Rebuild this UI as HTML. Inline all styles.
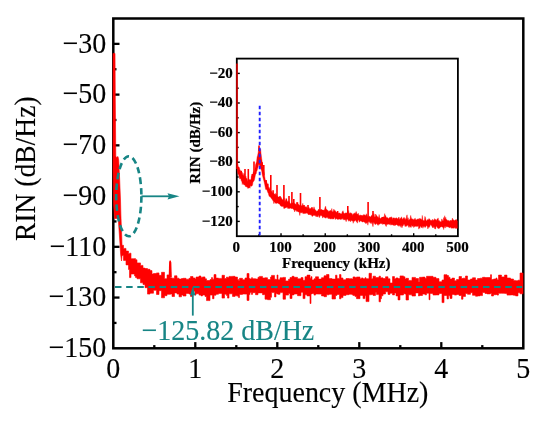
<!DOCTYPE html>
<html><head><meta charset="utf-8"><style>
html,body{margin:0;padding:0;background:#fff;width:550px;height:424px;overflow:hidden}
svg{display:block}
text{font-family:"Liberation Serif","Times New Roman",serif;fill:#000}
.big{stroke:#000;stroke-width:0.12px}
.sm{stroke:#000;stroke-width:0.2px}
</style></head><body>
<svg width="550" height="424" viewBox="0 0 550 424">
<rect x="113.3" y="18.5" width="410" height="329.8" fill="none" stroke="#000" stroke-width="2.5"/>
<line x1="113.3" y1="43.87" x2="119.50" y2="43.87" stroke="#000" stroke-width="2.3"/>
<line x1="113.3" y1="69.24" x2="116.50" y2="69.24" stroke="#000" stroke-width="2.3"/>
<line x1="113.3" y1="94.61" x2="119.50" y2="94.61" stroke="#000" stroke-width="2.3"/>
<line x1="113.3" y1="119.98" x2="116.50" y2="119.98" stroke="#000" stroke-width="2.3"/>
<line x1="113.3" y1="145.35" x2="119.50" y2="145.35" stroke="#000" stroke-width="2.3"/>
<line x1="113.3" y1="170.72" x2="116.50" y2="170.72" stroke="#000" stroke-width="2.3"/>
<line x1="113.3" y1="196.08" x2="119.50" y2="196.08" stroke="#000" stroke-width="2.3"/>
<line x1="113.3" y1="221.45" x2="116.50" y2="221.45" stroke="#000" stroke-width="2.3"/>
<line x1="113.3" y1="246.82" x2="119.50" y2="246.82" stroke="#000" stroke-width="2.3"/>
<line x1="113.3" y1="272.19" x2="116.50" y2="272.19" stroke="#000" stroke-width="2.3"/>
<line x1="113.3" y1="297.56" x2="119.50" y2="297.56" stroke="#000" stroke-width="2.3"/>
<line x1="113.3" y1="322.93" x2="116.50" y2="322.93" stroke="#000" stroke-width="2.3"/>
<line x1="154.30" y1="348.3" x2="154.30" y2="345.10" stroke="#000" stroke-width="2.3"/>
<line x1="195.30" y1="348.3" x2="195.30" y2="342.10" stroke="#000" stroke-width="2.3"/>
<line x1="236.30" y1="348.3" x2="236.30" y2="345.10" stroke="#000" stroke-width="2.3"/>
<line x1="277.30" y1="348.3" x2="277.30" y2="342.10" stroke="#000" stroke-width="2.3"/>
<line x1="318.30" y1="348.3" x2="318.30" y2="345.10" stroke="#000" stroke-width="2.3"/>
<line x1="359.30" y1="348.3" x2="359.30" y2="342.10" stroke="#000" stroke-width="2.3"/>
<line x1="400.30" y1="348.3" x2="400.30" y2="345.10" stroke="#000" stroke-width="2.3"/>
<line x1="441.30" y1="348.3" x2="441.30" y2="342.10" stroke="#000" stroke-width="2.3"/>
<line x1="482.30" y1="348.3" x2="482.30" y2="345.10" stroke="#000" stroke-width="2.3"/>
<polygon points="113.0,53.4 115.0,53.4 115.3,100.0 115.8,156.0 116.4,157.5 117.2,157.0 118.0,156.5 118.7,160.0 119.6,178.0 120.5,200.0 120.9,215.0 121.4,228.0 121.8,238.0 122.0,245.0 122.0,245.3 123.5,245.3 123.5,248.4 126.0,248.4 126.0,251.1 128.5,251.1 128.5,254.1 129.5,254.1 129.5,253.2 131.0,253.2 131.0,258.7 134.5,258.7 134.5,258.6 135.5,258.6 135.5,259.8 137.0,259.8 137.0,262.9 140.5,262.9 140.5,265.4 143.0,265.4 143.0,268.1 145.0,268.1 145.0,268.5 147.5,268.5 147.5,269.3 150.0,269.3 150.0,270.6 152.0,270.6 152.0,274.1 153.5,274.1 153.5,273.5 156.5,273.5 156.5,272.9 159.0,272.9 159.0,275.3 161.5,275.3 161.5,272.3 164.5,272.3 164.5,278.7 167.0,278.7 167.0,274.9 170.5,274.9 170.5,277.8 172.0,277.8 172.0,278.2 174.5,278.2 174.5,275.8 177.0,275.8 177.0,278.2 179.0,278.2 179.0,279.1 181.5,279.1 181.5,278.5 183.0,278.5 183.0,278.3 186.0,278.3 186.0,279.2 189.0,279.2 189.0,278.3 190.5,278.3 190.5,276.5 193.0,276.5 193.0,278.0 195.0,278.0 195.0,279.0 196.0,279.0 196.0,277.0 199.0,277.0 199.0,276.0 201.0,276.0 201.0,277.6 202.5,277.6 202.5,276.9 205.0,276.9 205.0,278.8 206.5,278.8 206.5,280.5 210.0,280.5 210.0,279.6 211.5,279.6 211.5,277.6 212.5,277.6 212.5,279.2 214.0,279.2 214.0,274.6 216.0,274.6 216.0,278.1 218.5,278.1 218.5,278.4 222.0,278.4 222.0,275.3 224.5,275.3 224.5,278.5 226.5,278.5 226.5,277.0 227.5,277.0 227.5,277.4 229.0,277.4 229.0,276.4 232.5,276.4 232.5,276.3 235.0,276.3 235.0,277.1 237.5,277.1 237.5,279.4 238.5,279.4 238.5,280.5 239.5,280.5 239.5,278.3 242.5,278.3 242.5,279.7 245.0,279.7 245.0,278.0 247.0,278.0 247.0,273.5 249.0,273.5 249.0,278.5 250.0,278.5 250.0,278.9 251.5,278.9 251.5,277.7 252.5,277.7 252.5,278.7 255.5,278.7 255.5,279.0 258.0,279.0 258.0,277.2 259.5,277.2 259.5,276.4 262.5,276.4 262.5,278.0 264.0,278.0 264.0,278.0 265.0,278.0 265.0,277.8 267.5,277.8 267.5,279.6 270.5,279.6 270.5,277.0 271.5,277.0 271.5,275.4 274.5,275.4 274.5,279.2 276.0,279.2 276.0,279.5 277.0,279.5 277.0,275.0 278.0,275.0 278.0,279.7 280.0,279.7 280.0,277.8 283.0,277.8 283.0,277.4 285.5,277.4 285.5,280.9 288.5,280.9 288.5,279.3 290.0,279.3 290.0,277.5 292.0,277.5 292.0,276.3 294.0,276.3 294.0,277.3 297.5,277.3 297.5,278.8 301.0,278.8 301.0,277.6 303.0,277.6 303.0,280.3 305.0,280.3 305.0,276.7 307.0,276.7 307.0,275.1 310.0,275.1 310.0,278.3 311.0,278.3 311.0,276.7 312.0,276.7 312.0,279.9 314.0,279.9 314.0,278.8 315.5,278.8 315.5,276.8 318.5,276.8 318.5,279.1 321.5,279.1 321.5,277.7 324.0,277.7 324.0,275.8 326.5,275.8 326.5,274.5 329.0,274.5 329.0,278.6 332.0,278.6 332.0,279.1 335.5,279.1 335.5,275.2 337.0,275.2 337.0,278.4 339.5,278.4 339.5,274.6 341.0,274.6 341.0,278.0 343.0,278.0 343.0,279.8 346.0,279.8 346.0,278.5 349.0,278.5 349.0,278.7 352.0,278.7 352.0,279.0 353.0,279.0 353.0,276.9 355.0,276.9 355.0,277.4 356.5,277.4 356.5,277.0 360.0,277.0 360.0,278.7 361.5,278.7 361.5,277.9 363.0,277.9 363.0,278.7 365.0,278.7 365.0,277.7 366.0,277.7 366.0,278.7 369.0,278.7 369.0,273.3 371.5,273.3 371.5,278.7 373.0,278.7 373.0,276.2 375.5,276.2 375.5,277.6 376.5,277.6 376.5,277.6 379.0,277.6 379.0,276.2 380.5,276.2 380.5,278.0 381.5,278.0 381.5,277.8 383.0,277.8 383.0,278.5 385.5,278.5 385.5,276.8 388.0,276.8 388.0,278.8 390.0,278.8 390.0,283.0 392.5,283.0 392.5,276.6 394.5,276.6 394.5,278.7 396.0,278.7 396.0,277.9 398.0,277.9 398.0,278.6 400.0,278.6 400.0,275.9 403.5,275.9 403.5,276.8 405.0,276.8 405.0,278.9 406.0,278.9 406.0,278.3 408.5,278.3 408.5,280.4 412.0,280.4 412.0,277.4 415.5,277.4 415.5,278.5 418.5,278.5 418.5,282.1 419.5,282.1 419.5,277.3 422.5,277.3 422.5,277.1 425.0,277.1 425.0,278.3 426.5,278.3 426.5,276.3 429.0,276.3 429.0,276.3 430.0,276.3 430.0,276.3 433.0,276.3 433.0,277.3 436.0,277.3 436.0,278.6 439.0,278.6 439.0,281.7 442.0,281.7 442.0,280.0 444.0,280.0 444.0,274.7 447.0,274.7 447.0,275.5 448.5,275.5 448.5,277.2 450.0,277.2 450.0,279.1 452.0,279.1 452.0,278.1 454.5,278.1 454.5,280.8 456.5,280.8 456.5,279.5 459.0,279.5 459.0,276.5 461.5,276.5 461.5,278.5 463.0,278.5 463.0,278.2 465.5,278.2 465.5,276.0 467.5,276.0 467.5,280.0 470.5,280.0 470.5,279.0 472.5,279.0 472.5,277.8 475.5,277.8 475.5,280.0 477.5,280.0 477.5,278.5 480.0,278.5 480.0,278.2 482.5,278.2 482.5,277.3 485.0,277.3 485.0,277.6 487.0,277.6 487.0,277.5 490.5,277.5 490.5,274.7 491.5,274.7 491.5,279.6 493.5,279.6 493.5,279.0 496.0,279.0 496.0,278.0 497.0,278.0 497.0,279.7 498.5,279.7 498.5,275.1 501.5,275.1 501.5,276.9 504.5,276.9 504.5,275.1 507.0,275.1 507.0,278.0 510.5,278.0 510.5,279.0 513.5,279.0 513.5,280.4 515.5,280.4 515.5,280.7 518.0,280.7 518.0,280.2 520.0,280.2 520.0,273.0 523.0,273.0 523.0,293.8 520.0,293.8 520.0,292.7 518.0,292.7 518.0,295.9 515.5,295.9 515.5,295.3 513.5,295.3 513.5,294.9 510.5,294.9 510.5,295.1 507.0,295.1 507.0,293.4 504.5,293.4 504.5,293.3 501.5,293.3 501.5,293.3 498.5,293.3 498.5,295.1 497.0,295.1 497.0,294.5 496.0,294.5 496.0,294.7 493.5,294.7 493.5,296.0 491.5,296.0 491.5,293.3 490.5,293.3 490.5,293.9 487.0,293.9 487.0,293.5 485.0,293.5 485.0,292.5 482.5,292.5 482.5,295.6 480.0,295.6 480.0,295.9 477.5,295.9 477.5,296.2 475.5,296.2 475.5,295.3 472.5,295.3 472.5,292.7 470.5,292.7 470.5,294.3 467.5,294.3 467.5,293.5 465.5,293.5 465.5,296.4 463.0,296.4 463.0,299.2 461.5,299.2 461.5,295.5 459.0,295.5 459.0,294.5 456.5,294.5 456.5,295.1 454.5,295.1 454.5,294.4 452.0,294.4 452.0,298.4 450.0,298.4 450.0,295.8 448.5,295.8 448.5,298.9 447.0,298.9 447.0,295.5 444.0,295.5 444.0,302.6 442.0,302.6 442.0,293.5 439.0,293.5 439.0,294.9 436.0,294.9 436.0,295.0 433.0,295.0 433.0,293.4 430.0,293.4 430.0,299.7 429.0,299.7 429.0,293.2 426.5,293.2 426.5,294.8 425.0,294.8 425.0,294.1 422.5,294.1 422.5,295.5 419.5,295.5 419.5,296.0 418.5,296.0 418.5,292.9 415.5,292.9 415.5,296.0 412.0,296.0 412.0,294.8 408.5,294.8 408.5,300.0 406.0,300.0 406.0,294.1 405.0,294.1 405.0,293.7 403.5,293.7 403.5,295.0 400.0,295.0 400.0,299.9 398.0,299.9 398.0,295.9 396.0,295.9 396.0,293.0 394.5,293.0 394.5,294.9 392.5,294.9 392.5,293.2 390.0,293.2 390.0,294.4 388.0,294.4 388.0,291.8 385.5,291.8 385.5,294.0 383.0,294.0 383.0,295.8 381.5,295.8 381.5,298.7 380.5,298.7 380.5,301.8 379.0,301.8 379.0,294.6 376.5,294.6 376.5,292.5 375.5,292.5 375.5,295.5 373.0,295.5 373.0,294.4 371.5,294.4 371.5,294.8 369.0,294.8 369.0,301.6 366.0,301.6 366.0,295.7 365.0,295.7 365.0,298.6 363.0,298.6 363.0,295.4 361.5,295.4 361.5,295.4 360.0,295.4 360.0,298.7 356.5,298.7 356.5,296.6 355.0,296.6 355.0,295.4 353.0,295.4 353.0,294.8 352.0,294.8 352.0,294.2 349.0,294.2 349.0,294.7 346.0,294.7 346.0,295.4 343.0,295.4 343.0,297.6 341.0,297.6 341.0,298.8 339.5,298.8 339.5,294.5 337.0,294.5 337.0,295.4 335.5,295.4 335.5,299.0 332.0,299.0 332.0,294.3 329.0,294.3 329.0,294.8 326.5,294.8 326.5,296.7 324.0,296.7 324.0,295.9 321.5,295.9 321.5,294.1 318.5,294.1 318.5,294.0 315.5,294.0 315.5,295.1 314.0,295.1 314.0,293.5 312.0,293.5 312.0,293.9 311.0,293.9 311.0,303.5 310.0,303.5 310.0,295.9 307.0,295.9 307.0,294.7 305.0,294.7 305.0,298.6 303.0,298.6 303.0,292.3 301.0,292.3 301.0,295.7 297.5,295.7 297.5,294.0 294.0,294.0 294.0,294.9 292.0,294.9 292.0,298.5 290.0,298.5 290.0,293.5 288.5,293.5 288.5,295.1 285.5,295.1 285.5,299.2 283.0,299.2 283.0,292.6 280.0,292.6 280.0,294.3 278.0,294.3 278.0,293.9 277.0,293.9 277.0,293.6 276.0,293.6 276.0,296.9 274.5,296.9 274.5,292.6 271.5,292.6 271.5,297.3 270.5,297.3 270.5,299.7 267.5,299.7 267.5,299.2 265.0,299.2 265.0,294.4 264.0,294.4 264.0,294.7 262.5,294.7 262.5,292.9 259.5,292.9 259.5,292.9 258.0,292.9 258.0,294.7 255.5,294.7 255.5,292.7 252.5,292.7 252.5,294.4 251.5,294.4 251.5,292.6 250.0,292.6 250.0,294.6 249.0,294.6 249.0,300.4 247.0,300.4 247.0,294.1 245.0,294.1 245.0,294.0 242.5,294.0 242.5,294.4 239.5,294.4 239.5,297.6 238.5,297.6 238.5,296.2 237.5,296.2 237.5,295.8 235.0,295.8 235.0,296.4 232.5,296.4 232.5,293.8 229.0,293.8 229.0,298.1 227.5,298.1 227.5,295.5 226.5,295.5 226.5,294.2 224.5,294.2 224.5,298.1 222.0,298.1 222.0,293.4 218.5,293.4 218.5,294.2 216.0,294.2 216.0,295.2 214.0,295.2 214.0,298.7 212.5,298.7 212.5,295.0 211.5,295.0 211.5,295.1 210.0,295.1 210.0,300.6 206.5,300.6 206.5,296.5 205.0,296.5 205.0,295.0 202.5,295.0 202.5,295.9 201.0,295.9 201.0,295.1 199.0,295.1 199.0,293.7 196.0,293.7 196.0,295.0 195.0,295.0 195.0,291.3 193.0,291.3 193.0,296.4 190.5,296.4 190.5,294.1 189.0,294.1 189.0,293.4 186.0,293.4 186.0,296.0 183.0,296.0 183.0,294.9 181.5,294.9 181.5,296.8 179.0,296.8 179.0,294.1 177.0,294.1 177.0,292.9 174.5,292.9 174.5,296.5 172.0,296.5 172.0,293.9 170.5,293.9 170.5,294.3 167.0,294.3 167.0,295.7 164.5,295.7 164.5,297.8 161.5,297.8 161.5,290.7 159.0,290.7 159.0,294.5 156.5,294.5 156.5,290.3 153.5,290.3 153.5,293.2 152.0,293.2 152.0,293.2 150.0,293.2 150.0,294.1 147.5,294.1 147.5,287.7 145.0,287.7 145.0,284.5 143.0,284.5 143.0,282.8 140.5,282.8 140.5,278.8 137.0,278.8 137.0,277.5 135.5,277.5 135.5,275.9 134.5,275.9 134.5,274.0 131.0,274.0 131.0,277.6 129.5,277.6 129.5,269.5 128.5,269.5 128.5,264.9 126.0,264.9 126.0,260.4 123.5,260.4 123.5,255.4 122.0,255.4 121.5,261.0 120.6,254.0 120.0,244.0 119.3,234.0 118.5,222.0 117.8,218.5 116.5,218.5 114.5,218.5 113.6,205.0 113.0,170.0" fill="#ff0000" stroke="#ff0000" stroke-width="0.6" stroke-linejoin="round"/>
<polygon points="168.7,277 169.1,262 169.7,260.5 170.7,260.6 171.3,262.5 171.8,277" fill="#ff0000"/>
<line x1="115" y1="287" x2="522.2" y2="287" stroke="#178585" stroke-width="2.2" stroke-dasharray="6.5 4.65"/>
<ellipse cx="128.8" cy="196.3" rx="12.6" ry="40" fill="none" stroke="#178585" stroke-width="2.6" stroke-dasharray="6.5 4"/>
<line x1="141.5" y1="196.3" x2="170" y2="196.3" stroke="#178585" stroke-width="1.8"/>
<polygon points="167.5,193.2 179.5,196.3 167.5,199.4 169,196.3" fill="#178585"/>
<line x1="192.8" y1="315.6" x2="192.8" y2="292" stroke="#178585" stroke-width="1.8"/>
<polygon points="190,296 192.8,286.5 195.6,296 192.8,294.5" fill="#178585"/>
<text transform="translate(141.5,339.5) scale(1,1.04)" font-size="28" class="big" style="fill:#178585;stroke:#178585">&#8722;125.82 dB/Hz</text>
<text transform="translate(106.3,52.7) scale(1,1.04)" font-size="28" class="big" text-anchor="end">&#8722;30</text>
<text transform="translate(106.3,103.4) scale(1,1.04)" font-size="28" class="big" text-anchor="end">&#8722;50</text>
<text transform="translate(106.3,154.1) scale(1,1.04)" font-size="28" class="big" text-anchor="end">&#8722;70</text>
<text transform="translate(106.3,204.9) scale(1,1.04)" font-size="28" class="big" text-anchor="end">&#8722;90</text>
<text transform="translate(106.3,255.6) scale(1,1.04)" font-size="28" class="big" text-anchor="end">&#8722;110</text>
<text transform="translate(106.3,306.4) scale(1,1.04)" font-size="28" class="big" text-anchor="end">&#8722;130</text>
<text transform="translate(106.3,357.1) scale(1,1.04)" font-size="28" class="big" text-anchor="end">&#8722;150</text>
<text transform="translate(113.30,377.6) scale(1,1.04)" font-size="28" class="big" text-anchor="middle">0</text>
<text transform="translate(195.30,377.6) scale(1,1.04)" font-size="28" class="big" text-anchor="middle">1</text>
<text transform="translate(277.30,377.6) scale(1,1.04)" font-size="28" class="big" text-anchor="middle">2</text>
<text transform="translate(359.30,377.6) scale(1,1.04)" font-size="28" class="big" text-anchor="middle">3</text>
<text transform="translate(441.30,377.6) scale(1,1.04)" font-size="28" class="big" text-anchor="middle">4</text>
<text transform="translate(523.30,377.6) scale(1,1.04)" font-size="28" class="big" text-anchor="middle">5</text>
<text transform="translate(327.8,402.3) scale(1,1.04)" font-size="28" class="big" text-anchor="middle">Frequency (MHz)</text>
<text transform="translate(35.0,168.75) rotate(-90) scale(1,1.04)" font-size="28" class="big" text-anchor="middle" textLength="144.6" lengthAdjust="spacingAndGlyphs">RIN (dB/Hz)</text>
<rect x="236.8" y="58.6" width="221.1" height="177.6" fill="none" stroke="#000" stroke-width="1.8"/>
<line x1="236.8" y1="73.40" x2="239.80" y2="73.40" stroke="#000" stroke-width="1.4"/>
<line x1="236.8" y1="88.20" x2="238.70" y2="88.20" stroke="#000" stroke-width="1.4"/>
<line x1="236.8" y1="103.00" x2="239.80" y2="103.00" stroke="#000" stroke-width="1.4"/>
<line x1="236.8" y1="117.80" x2="238.70" y2="117.80" stroke="#000" stroke-width="1.4"/>
<line x1="236.8" y1="132.60" x2="239.80" y2="132.60" stroke="#000" stroke-width="1.4"/>
<line x1="236.8" y1="147.40" x2="238.70" y2="147.40" stroke="#000" stroke-width="1.4"/>
<line x1="236.8" y1="162.20" x2="239.80" y2="162.20" stroke="#000" stroke-width="1.4"/>
<line x1="236.8" y1="177.00" x2="238.70" y2="177.00" stroke="#000" stroke-width="1.4"/>
<line x1="236.8" y1="191.80" x2="239.80" y2="191.80" stroke="#000" stroke-width="1.4"/>
<line x1="236.8" y1="206.60" x2="238.70" y2="206.60" stroke="#000" stroke-width="1.4"/>
<line x1="236.8" y1="221.40" x2="239.80" y2="221.40" stroke="#000" stroke-width="1.4"/>
<line x1="258.91" y1="236.2" x2="258.91" y2="234.30" stroke="#000" stroke-width="1.4"/>
<line x1="281.02" y1="236.2" x2="281.02" y2="233.20" stroke="#000" stroke-width="1.4"/>
<line x1="303.13" y1="236.2" x2="303.13" y2="234.30" stroke="#000" stroke-width="1.4"/>
<line x1="325.24" y1="236.2" x2="325.24" y2="233.20" stroke="#000" stroke-width="1.4"/>
<line x1="347.35" y1="236.2" x2="347.35" y2="234.30" stroke="#000" stroke-width="1.4"/>
<line x1="369.46" y1="236.2" x2="369.46" y2="233.20" stroke="#000" stroke-width="1.4"/>
<line x1="391.57" y1="236.2" x2="391.57" y2="234.30" stroke="#000" stroke-width="1.4"/>
<line x1="413.68" y1="236.2" x2="413.68" y2="233.20" stroke="#000" stroke-width="1.4"/>
<line x1="435.79" y1="236.2" x2="435.79" y2="234.30" stroke="#000" stroke-width="1.4"/>
<polygon points="236.5,63.8 237.5,63.8 237.6,161.4 237.2,161.2 237.8,163.7 238.3,167.1 238.8,166.9 239.3,167.5 239.8,169.4 240.3,171.8 240.8,170.3 241.3,171.0 241.8,172.3 242.3,172.5 242.8,174.6 243.3,175.8 243.9,173.3 244.4,174.1 244.9,177.6 245.4,177.3 245.9,176.1 246.4,179.1 246.9,178.2 247.4,180.1 247.9,181.5 248.4,180.5 248.9,180.3 249.4,179.4 250.0,179.4 250.5,179.7 251.0,179.4 251.5,175.6 252.0,177.5 252.5,176.0 253.0,173.2 253.5,171.6 254.0,173.6 254.5,171.9 255.0,168.4 255.5,164.9 256.1,162.9 256.6,161.6 257.1,157.0 257.6,155.6 258.1,152.9 258.6,149.4 259.1,147.6 259.6,148.2 260.1,151.0 260.6,148.9 261.1,153.9 261.7,158.7 262.2,162.3 262.7,165.8 263.2,169.1 263.7,170.6 264.2,172.6 264.7,176.6 265.2,179.4 265.7,181.4 266.2,180.4 266.7,182.1 267.2,183.4 267.8,185.5 268.3,187.1 268.8,187.7 269.3,187.5 269.8,189.1 270.3,189.9 270.8,190.5 271.3,191.0 271.8,191.5 272.3,192.5 272.8,192.9 273.3,193.3 273.9,193.4 274.4,194.3 274.9,194.1 275.4,193.4 275.9,195.1 276.4,194.0 276.9,196.4 277.4,196.2 277.9,196.4 278.4,197.0 278.9,197.1 279.5,196.8 280.0,196.6 280.5,198.6 281.0,197.3 281.5,198.1 282.0,199.2 282.5,199.5 283.0,199.9 283.5,200.4 284.0,197.6 284.5,200.9 285.0,202.1 285.6,200.2 286.1,200.5 286.6,200.5 287.1,200.6 287.6,201.5 288.1,202.3 288.6,201.2 289.1,201.3 289.6,202.4 290.1,203.0 290.6,204.0 291.1,203.6 291.7,203.0 292.2,202.7 292.7,203.1 293.2,202.9 293.7,202.4 294.2,203.3 294.7,203.6 295.2,203.7 295.7,204.0 296.2,205.5 296.7,202.2 297.2,205.3 297.8,204.3 298.3,204.0 298.8,204.7 299.3,205.3 299.8,205.2 300.3,205.5 300.8,206.4 301.3,206.1 301.8,205.3 302.3,205.6 302.8,203.3 303.4,206.3 303.9,205.8 304.4,206.5 304.9,207.3 305.4,207.0 305.9,206.4 306.4,206.7 306.9,207.4 307.4,208.0 307.9,208.2 308.4,207.5 308.9,207.1 309.5,208.8 310.0,208.6 310.5,208.6 311.0,208.4 311.5,207.7 312.0,208.2 312.5,209.0 313.0,209.6 313.5,208.6 314.0,206.8 314.5,208.4 315.0,209.6 315.6,210.3 316.1,210.5 316.6,211.5 317.1,211.1 317.6,210.9 318.1,210.2 318.6,209.0 319.1,210.2 319.6,210.2 320.1,209.7 320.6,210.3 321.1,209.1 321.7,209.8 322.2,209.9 322.7,210.0 323.2,210.3 323.7,210.1 324.2,210.3 324.7,209.1 325.2,206.7 325.7,206.3 326.2,210.1 326.7,208.9 327.3,210.9 327.8,210.8 328.3,211.2 328.8,211.9 329.3,210.7 329.8,211.3 330.3,210.2 330.8,210.7 331.3,211.2 331.8,208.5 332.3,211.6 332.8,211.9 333.4,210.9 333.9,209.1 334.4,211.1 334.9,210.3 335.4,211.3 335.9,211.6 336.4,212.7 336.9,212.0 337.4,213.1 337.9,212.5 338.4,213.6 338.9,213.1 339.5,213.0 340.0,213.3 340.5,213.6 341.0,214.1 341.5,214.1 342.0,212.6 342.5,211.4 343.0,210.7 343.5,212.3 344.0,213.5 344.5,213.5 345.1,213.2 345.6,212.9 346.1,212.7 346.6,213.1 347.1,213.3 347.6,212.4 348.1,213.5 348.6,210.5 349.1,213.2 349.6,213.2 350.1,213.2 350.6,212.8 351.2,212.9 351.7,213.4 352.2,213.7 352.7,215.6 353.2,214.2 353.7,213.6 354.2,213.6 354.7,213.1 355.2,212.5 355.7,213.9 356.2,211.4 356.7,213.6 357.3,214.2 357.8,213.9 358.3,213.2 358.8,215.2 359.3,215.5 359.8,215.3 360.3,214.8 360.8,215.6 361.3,215.1 361.8,215.6 362.3,215.9 362.8,215.1 363.4,214.6 363.9,215.6 364.4,214.8 364.9,214.7 365.4,215.0 365.9,216.2 366.4,213.7 366.9,214.5 367.4,216.5 367.9,216.4 368.4,217.7 369.0,216.1 369.5,216.3 370.0,216.8 370.5,217.0 371.0,216.3 371.5,215.7 372.0,214.8 372.5,216.8 373.0,213.4 373.5,216.1 374.0,213.7 374.5,216.8 375.1,217.2 375.6,214.0 376.1,214.7 376.6,215.5 377.1,216.0 377.6,217.3 378.1,216.8 378.6,218.6 379.1,214.5 379.6,217.3 380.1,218.4 380.6,218.5 381.2,217.8 381.7,217.6 382.2,216.9 382.7,217.4 383.2,216.8 383.7,217.1 384.2,217.2 384.7,213.6 385.2,215.8 385.7,215.5 386.2,217.6 386.8,217.6 387.3,217.4 387.8,218.1 388.3,218.4 388.8,218.4 389.3,217.4 389.8,217.7 390.3,217.5 390.8,217.0 391.3,216.8 391.8,217.5 392.3,217.8 392.9,219.5 393.4,218.4 393.9,218.0 394.4,218.2 394.9,219.4 395.4,218.0 395.9,217.9 396.4,217.8 396.9,218.2 397.4,218.6 397.9,219.0 398.4,217.8 399.0,217.0 399.5,219.7 400.0,218.6 400.5,218.4 401.0,217.7 401.5,216.8 402.0,218.5 402.5,219.6 403.0,218.5 403.5,217.6 404.0,218.9 404.5,217.5 405.1,220.0 405.6,218.6 406.1,219.2 406.6,216.0 407.1,214.8 407.6,219.7 408.1,217.7 408.6,220.2 409.1,220.1 409.6,219.2 410.1,218.9 410.7,215.4 411.2,217.6 411.7,218.9 412.2,219.2 412.7,218.7 413.2,219.7 413.7,219.6 414.2,219.6 414.7,218.6 415.2,218.2 415.7,219.8 416.2,220.0 416.8,219.4 417.3,219.1 417.8,219.2 418.3,219.3 418.8,218.8 419.3,218.2 419.8,219.5 420.3,218.6 420.8,219.0 421.3,219.4 421.8,219.5 422.3,215.4 422.9,220.3 423.4,220.5 423.9,220.6 424.4,220.6 424.9,216.4 425.4,217.4 425.9,219.7 426.4,220.9 426.9,220.7 427.4,219.6 427.9,219.7 428.4,219.7 429.0,218.5 429.5,219.0 430.0,219.6 430.5,220.8 431.0,220.0 431.5,220.9 432.0,219.9 432.5,219.2 433.0,221.1 433.5,219.8 434.0,220.6 434.6,218.6 435.1,219.8 435.6,219.3 436.1,220.6 436.6,220.1 437.1,219.1 437.6,219.1 438.1,217.9 438.6,220.7 439.1,220.3 439.6,220.9 440.1,221.7 440.7,221.7 441.2,221.7 441.7,218.9 442.2,219.6 442.7,220.9 443.2,220.7 443.7,217.5 444.2,219.3 444.7,215.7 445.2,219.3 445.7,217.2 446.2,219.4 446.8,219.5 447.3,220.0 447.8,220.8 448.3,220.4 448.8,220.6 449.3,221.4 449.8,220.6 450.3,220.7 450.8,220.0 451.3,220.6 451.8,220.8 452.4,218.1 452.9,220.1 453.4,219.8 453.9,220.2 454.4,220.5 454.9,220.4 455.4,219.7 455.9,220.1 456.4,219.4 456.9,220.6 457.4,220.9 457.4,228.4 456.9,227.7 456.4,228.5 455.9,228.7 455.4,228.2 454.9,227.3 454.4,228.1 453.9,228.5 453.4,227.9 452.9,228.2 452.4,228.1 451.8,227.8 451.3,228.4 450.8,227.7 450.3,226.8 449.8,227.7 449.3,227.7 448.8,226.7 448.3,227.3 447.8,226.9 447.3,226.5 446.8,227.1 446.2,226.6 445.7,226.3 445.2,228.1 444.7,227.4 444.2,226.1 443.7,229.6 443.2,227.8 442.7,227.2 442.2,227.0 441.7,226.4 441.2,227.0 440.7,226.9 440.1,227.2 439.6,228.2 439.1,228.3 438.6,228.4 438.1,228.6 437.6,227.8 437.1,227.4 436.6,226.2 436.1,226.6 435.6,228.9 435.1,229.0 434.6,228.6 434.0,226.6 433.5,227.0 433.0,228.0 432.5,227.4 432.0,226.6 431.5,225.6 431.0,225.3 430.5,224.6 430.0,225.9 429.5,227.0 429.0,227.6 428.4,226.9 427.9,229.0 427.4,226.8 426.9,226.1 426.4,225.5 425.9,226.4 425.4,227.3 424.9,227.5 424.4,226.2 423.9,226.4 423.4,226.7 422.9,228.3 422.3,226.1 421.8,227.2 421.3,227.8 420.8,226.5 420.3,226.1 419.8,228.3 419.3,227.7 418.8,229.2 418.3,225.7 417.8,225.9 417.3,226.6 416.8,226.7 416.2,226.1 415.7,226.4 415.2,226.1 414.7,226.8 414.2,226.6 413.7,227.6 413.2,225.4 412.7,226.5 412.2,226.0 411.7,224.9 411.2,227.4 410.7,227.3 410.1,226.4 409.6,225.9 409.1,227.6 408.6,227.1 408.1,225.3 407.6,225.2 407.1,225.6 406.6,226.4 406.1,225.6 405.6,226.2 405.1,226.7 404.5,224.8 404.0,224.1 403.5,225.1 403.0,225.9 402.5,225.8 402.0,227.8 401.5,224.7 401.0,227.4 400.5,225.3 400.0,226.4 399.5,225.4 399.0,225.0 398.4,226.3 397.9,225.6 397.4,225.2 396.9,224.9 396.4,224.4 395.9,225.0 395.4,225.4 394.9,224.5 394.4,225.7 393.9,225.1 393.4,225.3 392.9,225.2 392.3,224.4 391.8,225.1 391.3,224.7 390.8,223.6 390.3,225.2 389.8,224.7 389.3,224.1 388.8,224.5 388.3,223.9 387.8,224.3 387.3,224.5 386.8,224.2 386.2,226.6 385.7,225.7 385.2,224.5 384.7,224.0 384.2,224.1 383.7,224.1 383.2,223.9 382.7,224.5 382.2,223.6 381.7,224.0 381.2,223.3 380.6,223.2 380.1,224.1 379.6,223.9 379.1,224.6 378.6,224.3 378.1,225.4 377.6,224.9 377.1,224.1 376.6,223.7 376.1,223.5 375.6,224.4 375.1,224.6 374.5,223.7 374.0,222.4 373.5,222.8 373.0,226.7 372.5,225.0 372.0,222.1 371.5,223.1 371.0,223.8 370.5,222.6 370.0,223.1 369.5,222.1 369.0,221.4 368.4,222.0 367.9,225.2 367.4,222.5 366.9,222.7 366.4,223.1 365.9,223.8 365.4,222.8 364.9,222.6 364.4,222.3 363.9,221.8 363.4,221.7 362.8,222.0 362.3,221.9 361.8,221.6 361.3,221.3 360.8,220.7 360.3,221.2 359.8,221.4 359.3,222.3 358.8,220.6 358.3,219.8 357.8,220.9 357.3,223.2 356.7,221.5 356.2,221.7 355.7,220.2 355.2,220.3 354.7,221.1 354.2,221.3 353.7,221.2 353.2,223.3 352.7,220.8 352.2,221.0 351.7,220.0 351.2,220.9 350.6,221.8 350.1,220.6 349.6,220.8 349.1,220.8 348.6,221.3 348.1,220.0 347.6,219.0 347.1,219.4 346.6,219.8 346.1,221.7 345.6,219.8 345.1,219.8 344.5,219.7 344.0,219.8 343.5,219.8 343.0,218.4 342.5,218.5 342.0,219.6 341.5,219.1 341.0,218.7 340.5,219.8 340.0,219.3 339.5,219.0 338.9,219.1 338.4,219.4 337.9,218.9 337.4,219.6 336.9,219.1 336.4,218.4 335.9,219.1 335.4,219.5 334.9,217.8 334.4,217.2 333.9,219.2 333.4,218.7 332.8,219.0 332.3,218.8 331.8,218.6 331.3,219.0 330.8,219.1 330.3,218.8 329.8,218.9 329.3,218.2 328.8,217.8 328.3,218.9 327.8,218.1 327.3,217.2 326.7,216.9 326.2,218.1 325.7,218.2 325.2,217.7 324.7,217.7 324.2,216.9 323.7,216.8 323.2,217.3 322.7,218.1 322.2,216.5 321.7,215.7 321.1,215.6 320.6,215.8 320.1,215.5 319.6,217.3 319.1,217.6 318.6,216.1 318.1,215.1 317.6,216.7 317.1,216.9 316.6,215.5 316.1,216.9 315.6,215.6 315.0,215.8 314.5,215.1 314.0,215.8 313.5,215.0 313.0,215.8 312.5,216.2 312.0,216.4 311.5,215.1 311.0,214.7 310.5,214.8 310.0,215.1 309.5,214.4 308.9,214.4 308.4,214.9 307.9,214.0 307.4,213.1 306.9,213.5 306.4,212.8 305.9,213.6 305.4,213.2 304.9,213.5 304.4,213.5 303.9,213.5 303.4,213.6 302.8,213.5 302.3,212.2 301.8,212.5 301.3,213.0 300.8,212.8 300.3,212.4 299.8,215.5 299.3,212.4 298.8,212.1 298.3,211.9 297.8,211.3 297.2,211.6 296.7,211.5 296.2,210.4 295.7,210.0 295.2,210.4 294.7,211.9 294.2,210.3 293.7,209.4 293.2,209.2 292.7,208.7 292.2,208.2 291.7,208.9 291.1,208.1 290.6,208.0 290.1,208.5 289.6,208.4 289.1,208.3 288.6,208.2 288.1,208.8 287.6,208.3 287.1,207.1 286.6,206.9 286.1,208.0 285.6,207.8 285.0,208.1 284.5,208.2 284.0,208.8 283.5,207.0 283.0,206.1 282.5,206.6 282.0,206.4 281.5,206.4 281.0,205.7 280.5,205.9 280.0,204.7 279.5,204.1 278.9,204.1 278.4,203.4 277.9,203.2 277.4,203.0 276.9,203.2 276.4,203.4 275.9,202.9 275.4,203.4 274.9,202.3 274.4,201.7 273.9,203.7 273.3,201.1 272.8,200.5 272.3,199.8 271.8,198.7 271.3,198.4 270.8,197.5 270.3,196.9 269.8,196.6 269.3,196.6 268.8,195.2 268.3,193.3 267.8,192.5 267.2,190.8 266.7,189.4 266.2,189.5 265.7,189.5 265.2,187.1 264.7,184.5 264.2,182.3 263.7,180.3 263.2,178.4 262.7,176.4 262.2,174.4 261.7,170.9 261.1,169.4 260.6,166.8 260.1,168.8 259.6,166.0 259.1,164.4 258.6,164.4 258.1,167.0 257.6,168.5 257.1,170.5 256.6,171.6 256.1,173.9 255.5,174.5 255.0,177.0 254.5,179.6 254.0,180.9 253.5,181.6 253.0,181.9 252.5,185.2 252.0,185.7 251.5,186.2 251.0,186.2 250.5,185.6 250.0,188.3 249.4,187.5 248.9,188.1 248.4,188.0 247.9,188.5 247.4,187.1 246.9,187.2 246.4,186.7 245.9,186.6 245.4,186.5 244.9,184.8 244.4,184.9 243.9,184.9 243.3,183.9 242.8,182.8 242.3,184.6 241.8,181.3 241.3,181.1 240.8,178.1 240.3,179.0 239.8,179.1 239.3,176.9 238.8,175.6 238.3,174.3 237.8,173.6 237.2,170.1 237.6,169.0 236.5,169.0" fill="#ff0000" stroke="#ff0000" stroke-width="0.4" stroke-linejoin="round"/>
<line x1="259.0" y1="145.6" x2="259.0" y2="151.1" stroke="#ff0000" stroke-width="1.6"/>
<line x1="241.2" y1="171.1" x2="241.2" y2="177.0" stroke="#ff0000" stroke-width="1.6"/>
<line x1="252.3" y1="174.0" x2="252.3" y2="180.3" stroke="#ff0000" stroke-width="1.6"/>
<line x1="262.2" y1="162.2" x2="262.2" y2="166.6" stroke="#ff0000" stroke-width="1.6"/>
<line x1="266.0" y1="180.0" x2="266.0" y2="185.1" stroke="#ff0000" stroke-width="1.6"/>
<line x1="267.8" y1="183.7" x2="267.8" y2="189.6" stroke="#ff0000" stroke-width="1.6"/>
<line x1="273.1" y1="190.3" x2="273.1" y2="196.6" stroke="#ff0000" stroke-width="1.6"/>
<line x1="280.1" y1="196.2" x2="280.1" y2="201.3" stroke="#ff0000" stroke-width="1.6"/>
<line x1="286.3" y1="198.5" x2="286.3" y2="204.2" stroke="#ff0000" stroke-width="1.6"/>
<line x1="297.4" y1="202.2" x2="297.4" y2="208.0" stroke="#ff0000" stroke-width="1.6"/>
<line x1="304.0" y1="205.1" x2="304.0" y2="210.1" stroke="#ff0000" stroke-width="1.6"/>
<line x1="312.0" y1="207.3" x2="312.0" y2="212.0" stroke="#ff0000" stroke-width="1.6"/>
<line x1="327.5" y1="210.3" x2="327.5" y2="214.2" stroke="#ff0000" stroke-width="1.6"/>
<line x1="337.6" y1="211.0" x2="337.6" y2="215.6" stroke="#ff0000" stroke-width="1.6"/>
<line x1="354.0" y1="214.7" x2="354.0" y2="217.7" stroke="#ff0000" stroke-width="1.6"/>
<line x1="382.7" y1="217.0" x2="382.7" y2="220.7" stroke="#ff0000" stroke-width="1.6"/>
<line x1="393.8" y1="217.7" x2="393.8" y2="221.7" stroke="#ff0000" stroke-width="1.6"/>
<line x1="245.0" y1="169.0" x2="245.0" y2="181.6" stroke="#ff0000" stroke-width="1.6"/>
<line x1="248.3" y1="169.0" x2="248.3" y2="183.8" stroke="#ff0000" stroke-width="1.6"/>
<line x1="254.0" y1="161.6" x2="254.0" y2="176.0" stroke="#ff0000" stroke-width="1.6"/>
<line x1="263.8" y1="165.0" x2="263.8" y2="175.3" stroke="#ff0000" stroke-width="1.6"/>
<line x1="270.8" y1="174.9" x2="270.8" y2="194.2" stroke="#ff0000" stroke-width="1.6"/>
<line x1="277.0" y1="185.0" x2="277.0" y2="199.5" stroke="#ff0000" stroke-width="1.6"/>
<line x1="283.9" y1="185.0" x2="283.9" y2="203.2" stroke="#ff0000" stroke-width="1.6"/>
<line x1="289.0" y1="195.9" x2="289.0" y2="205.1" stroke="#ff0000" stroke-width="1.6"/>
<line x1="291.9" y1="191.9" x2="291.9" y2="206.2" stroke="#ff0000" stroke-width="1.6"/>
<line x1="293.8" y1="199.1" x2="293.8" y2="206.9" stroke="#ff0000" stroke-width="1.6"/>
<line x1="300.5" y1="193.0" x2="300.5" y2="209.0" stroke="#ff0000" stroke-width="1.6"/>
<line x1="308.0" y1="205.0" x2="308.0" y2="211.0" stroke="#ff0000" stroke-width="1.6"/>
<line x1="319.9" y1="197.0" x2="319.9" y2="213.2" stroke="#ff0000" stroke-width="1.6"/>
<line x1="347.8" y1="206.0" x2="347.8" y2="216.9" stroke="#ff0000" stroke-width="1.6"/>
<line x1="368.1" y1="202.0" x2="368.1" y2="219.5" stroke="#ff0000" stroke-width="1.6"/>
<line x1="373.0" y1="211.0" x2="373.0" y2="219.9" stroke="#ff0000" stroke-width="1.6"/>
<line x1="259.7" y1="105.7" x2="259.7" y2="235.5" stroke="#2020ff" stroke-width="1.9" stroke-dasharray="3.5 2.5"/>
<text x="232.7" y="77.5" font-size="15" font-weight="bold" class="sm" text-anchor="end">&#8722;20</text>
<text x="232.7" y="107.1" font-size="15" font-weight="bold" class="sm" text-anchor="end">&#8722;40</text>
<text x="232.7" y="136.7" font-size="15" font-weight="bold" class="sm" text-anchor="end">&#8722;60</text>
<text x="232.7" y="166.3" font-size="15" font-weight="bold" class="sm" text-anchor="end">&#8722;80</text>
<text x="232.7" y="195.9" font-size="15" font-weight="bold" class="sm" text-anchor="end">&#8722;100</text>
<text x="232.7" y="225.5" font-size="15" font-weight="bold" class="sm" text-anchor="end">&#8722;120</text>
<text x="236.30" y="251.6" font-size="15" font-weight="bold" class="sm" text-anchor="middle">0</text>
<text x="280.52" y="251.6" font-size="15" font-weight="bold" class="sm" text-anchor="middle">100</text>
<text x="324.74" y="251.6" font-size="15" font-weight="bold" class="sm" text-anchor="middle">200</text>
<text x="368.96" y="251.6" font-size="15" font-weight="bold" class="sm" text-anchor="middle">300</text>
<text x="413.18" y="251.6" font-size="15" font-weight="bold" class="sm" text-anchor="middle">400</text>
<text x="457.40" y="251.6" font-size="15" font-weight="bold" class="sm" text-anchor="middle">500</text>
<text x="336.3" y="267.5" font-size="15" font-weight="bold" class="sm" text-anchor="middle">Frequency (kHz)</text>
<text transform="translate(200.2,142.8) rotate(-90)" font-size="15" font-weight="bold" class="sm" text-anchor="middle">RIN (dB/Hz)</text>
</svg>
</body></html>
